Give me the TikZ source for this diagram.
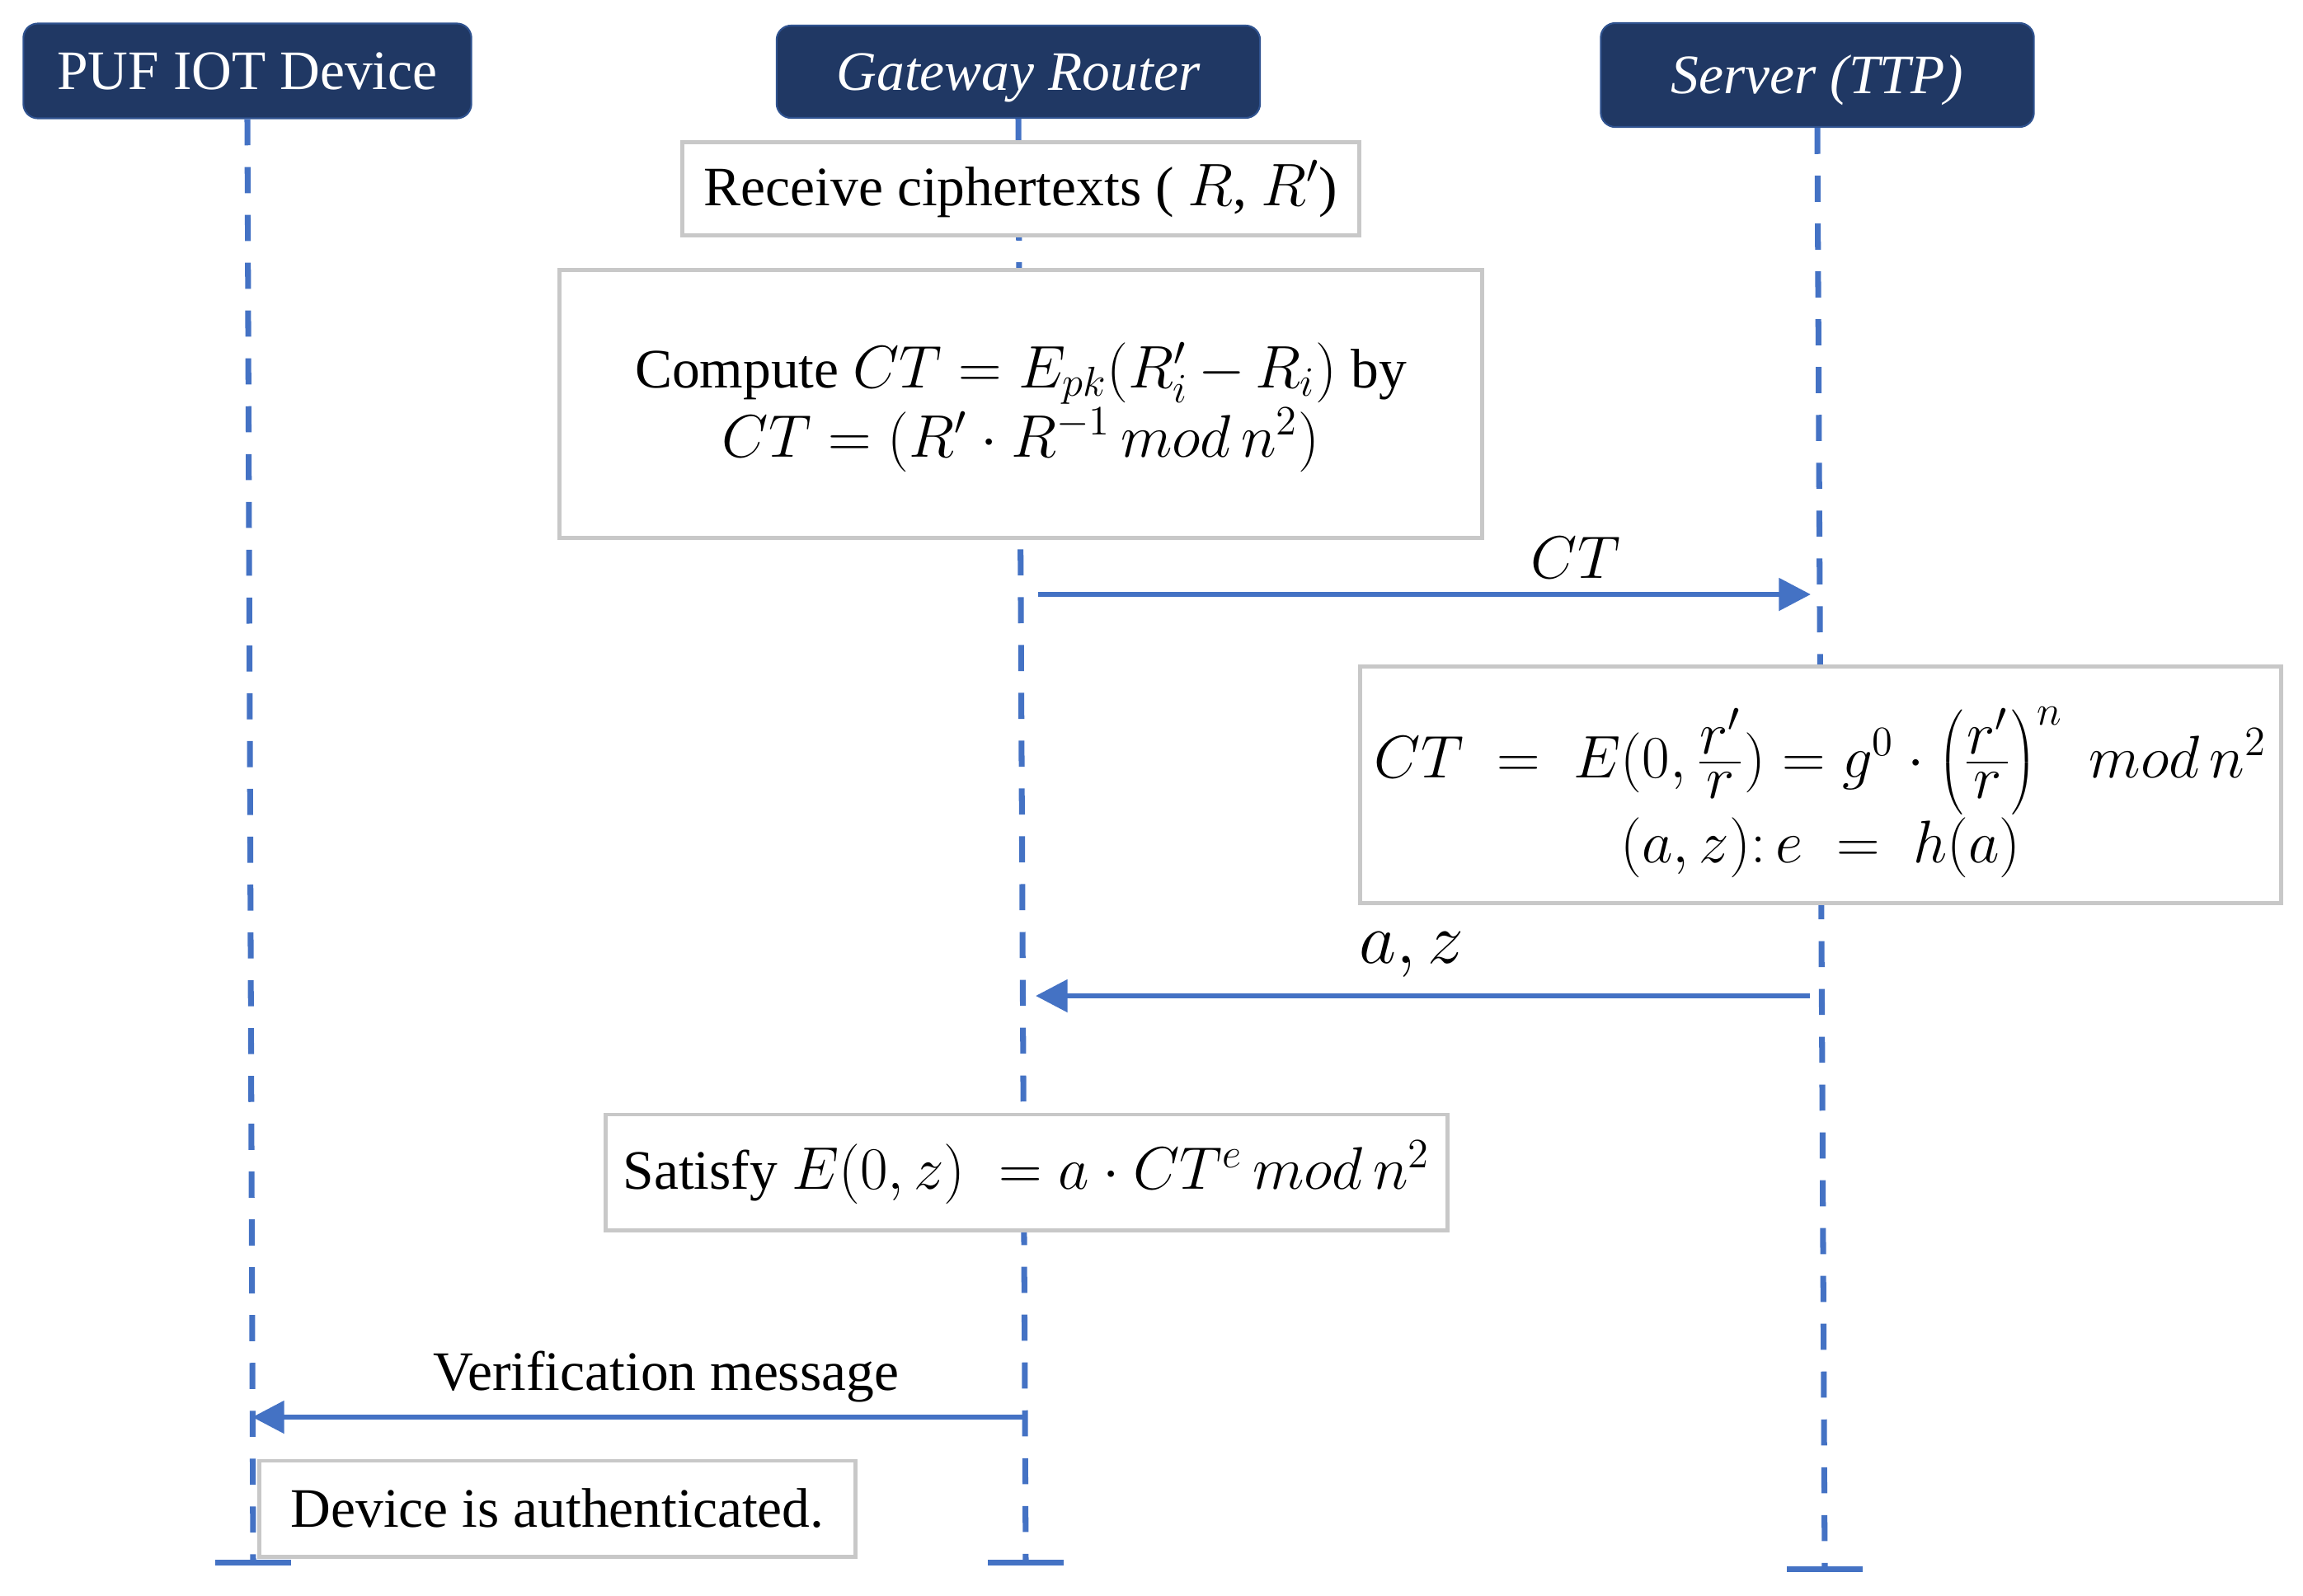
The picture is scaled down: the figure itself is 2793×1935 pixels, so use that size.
\documentclass[tikz,border=0pt]{standalone}
\usepackage{fontspec}
\setmainfont{Liberation Serif}
\usetikzlibrary{arrows.meta}
\definecolor{navy}{HTML}{203864}
\definecolor{navyedge}{HTML}{2F528F}
\definecolor{lifeblue}{HTML}{4472C4}
\definecolor{boxgray}{HTML}{C8C8C8}
\begin{document}
\begin{tikzpicture}[x=0.01cm,y=-0.01cm,
  hdr/.style={draw=navyedge, line width=0.6pt, fill=navy, rounded corners=5pt, text=white, font=\fontsize{19.2}{23}\selectfont, inner sep=0pt, text height=17pt, text depth=4pt},
  life/.style={draw=lifeblue, line width=2pt, dash pattern=on 9pt off 7.5pt},
  endbar/.style={draw=lifeblue, line width=2pt},
  msg/.style={draw=lifeblue, line width=1.8pt, -{Triangle[length=11pt,width=11pt]}},
  gbox/.style={draw=boxgray, line width=1.4pt, fill=white, inner sep=0pt, font=\fontsize{19.2}{23}\selectfont, align=center},
  lbl/.style={font=\fontsize{19.2}{23}\selectfont, inner sep=0pt, align=center}
]
\useasboundingbox (0,0) rectangle (2793,1935);

% headers
\node[hdr, minimum width=5.43cm, minimum height=1.15cm] (puf) at (300,86) {PUF IOT Device};
\node[hdr, minimum width=5.86cm, minimum height=1.12cm] (gw) at (1235,87) {\itshape Gateway Router};
\node[hdr, minimum width=5.25cm, minimum height=1.26cm] (srv) at (2204,91) {\itshape Server (TTP)};

% lifeline ends
\coordinate (pufEnd) at (307,1895);
\coordinate (gwEnd) at (1244,1895);
\coordinate (srvEnd) at (2213,1903);

\draw[life] (puf.south) -- (pufEnd);
\draw[life] (gw.south) -- (gwEnd);
\draw[life] (srv.south) -- (srvEnd);
\draw[endbar] (pufEnd) ++(-46,0) -- ++(92,0);
\draw[endbar] (gwEnd) ++(-46,0) -- ++(92,0);
\draw[endbar] (srvEnd) ++(-46,0) -- ++(92,0);

% boxes
\node[gbox, minimum width=8.21cm, minimum height=1.13cm] (recv) at (1238,229) {Receive ciphertexts ( $R$, $R'$)};

\node[gbox, minimum width=11.18cm, minimum height=3.25cm] (comp) at (1238,490) {};
\node[lbl] (compT) at (1238,494)
  {Compute $CT = E_{pk}(R_i'\,{-}\,R_i)$ by\\[1pt] $CT = (R'\cdot R^{-1}\,mod\,n^2)$};

\node[gbox, minimum width=11.16cm, minimum height=2.87cm] (calc) at (2208,952) {};
\node[lbl] (calcT) at (2208,961)
  {$CT \;=\; E(0,\frac{\textstyle r'}{\textstyle r}) = g^0\cdot\left(\frac{\textstyle r'}{\textstyle r}\right)^{n}\; mod\,n^2$\\[0pt] $(a,z)\colon e \;=\; h(a)$};

\node[gbox, minimum width=10.21cm, minimum height=1.40cm] (sat) at (1245,1422)
  {Satisfy $E(0,z) \;= a\cdot CT^{e}\,mod\,n^2$};
\node[gbox, minimum width=7.23cm, minimum height=1.16cm] (auth) at (676,1830)
  {Device is authenticated.};

% messages
\coordinate (ctA) at (1259,721);
\coordinate (ctB) at (2196,721);
\draw[msg] (ctA) -- (ctB);
\node[lbl] (ctL) at (1911,677) {$CT$};

\coordinate (azA) at (2195,1208);
\coordinate (azB) at (1256,1208);
\draw[msg] (azA) -- (azB);
\node[lbl, scale=1.2] (azL) at (1712,1158) {$a,z$};

\coordinate (vmA) at (1243,1719);
\coordinate (vmB) at (306,1719);
\draw[msg] (vmA) -- (vmB);
\node[lbl] (vmL) at (808,1670) {Verification message};
\end{tikzpicture}
\end{document}
